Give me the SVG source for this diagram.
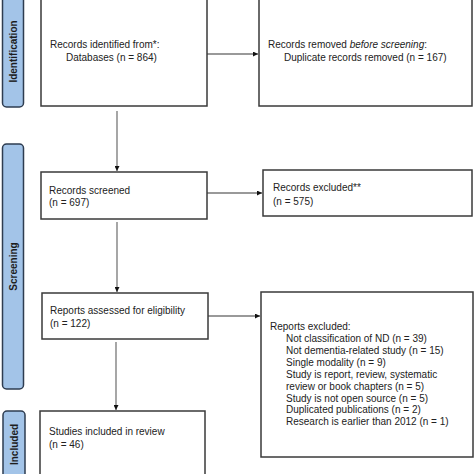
<svg xmlns="http://www.w3.org/2000/svg" width="474" height="474" viewBox="0 0 474 474">
<defs>
<style>
.box{fill:#fff;stroke:#3a3a3a;stroke-width:1.5}
.side{fill:#a3c4e8;stroke:#2e3c50;stroke-width:1.5}
.t{font-family:"Liberation Sans",Arial,sans-serif;font-size:10px;fill:#222}
.st{font-family:"Liberation Sans",Arial,sans-serif;font-size:10px;font-weight:bold;fill:#1e1e1e}
.ln{stroke:#777;stroke-width:1.3;fill:none}
</style>
<marker id="ah" viewBox="0 0 10 10" refX="10" refY="5" markerWidth="5" markerHeight="5" orient="auto" markerUnits="userSpaceOnUse">
<path d="M0,0 L10,5 L0,10 z" fill="#111"/>
</marker>
</defs>
<rect width="474" height="474" fill="#fff"/>
<g id="side-identification">
<rect class="side" x="2.5" y="-8" width="21" height="115" rx="4"/>
<text class="st" transform="translate(16.5,51.5) rotate(-90)" text-anchor="middle">Identification</text>
</g>
<g id="side-screening">
<rect class="side" x="2.5" y="144" width="21" height="245" rx="4"/>
<text class="st" transform="translate(16.5,266.5) rotate(-90)" text-anchor="middle">Screening</text>
</g>
<g id="side-included">
<rect class="side" x="3" y="411" width="22" height="70" rx="4"/>
<text class="st" transform="translate(17.5,444.5) rotate(-90)" text-anchor="middle">Included</text>
</g>
<g id="connectors">
<line class="ln" x1="207" y1="54" x2="258" y2="54" marker-end="url(#ah)"/>
<line class="ln" x1="117" y1="111" x2="117" y2="171" marker-end="url(#ah)"/>
<line class="ln" x1="207" y1="193" x2="262" y2="193" marker-end="url(#ah)"/>
<line class="ln" x1="117" y1="222" x2="117" y2="292" marker-end="url(#ah)"/>
<line class="ln" x1="208" y1="316" x2="260" y2="316" marker-end="url(#ah)"/>
<line class="ln" x1="116" y1="342" x2="116" y2="410" marker-end="url(#ah)"/>
</g>
<g id="records-identified">
<rect class="box" x="41" y="-5" width="166" height="111"/>
<text class="t" x="50" y="48">Records identified from*:</text>
<text class="t" x="66" y="61">Databases (n = 864)</text>
</g>
<g id="records-removed">
<rect class="box" x="259" y="-5" width="213" height="111"/>
<text class="t" x="268" y="48">Records removed <tspan font-style="italic">before screening</tspan>:</text>
<text class="t" x="284" y="61">Duplicate records removed (n = 167)</text>
</g>
<g id="records-screened">
<rect class="box" x="41" y="172" width="166" height="47"/>
<text class="t" x="49" y="194">Records screened</text>
<text class="t" x="49" y="206">(n = 697)</text>
</g>
<g id="records-excluded">
<rect class="box" x="263" y="170" width="209" height="46"/>
<text class="t" x="273" y="191">Records excluded**</text>
<text class="t" x="273" y="205">(n = 575)</text>
</g>
<g id="reports-assessed">
<rect class="box" x="42" y="293" width="166" height="46"/>
<text class="t" x="50" y="314">Reports assessed for eligibility</text>
<text class="t" x="50" y="327">(n = 122)</text>
</g>
<g id="reports-excluded">
<rect class="box" x="261" y="292" width="212" height="165"/>
<text class="t" x="270" y="330">Reports excluded:</text>
<text class="t" x="286" y="342">Not classification of ND (n = 39)</text>
<text class="t" x="286" y="354">Not dementia-related study (n = 15)</text>
<text class="t" x="286" y="366">Single modality (n = 9)</text>
<text class="t" x="286" y="378">Study is report, review, systematic</text>
<text class="t" x="286" y="390">review or book chapters (n = 5)</text>
<text class="t" x="286" y="402">Study is not open source (n = 5)</text>
<text class="t" x="286" y="413">Duplicated publications (n = 2)</text>
<text class="t" x="286" y="425">Research is earlier than 2012 (n = 1)</text>
</g>
<g id="studies-included">
<rect class="box" x="40" y="411" width="165" height="70"/>
<text class="t" x="49" y="435">Studies included in review</text>
<text class="t" x="49" y="448">(n = 46)</text>
</g>
</svg>
